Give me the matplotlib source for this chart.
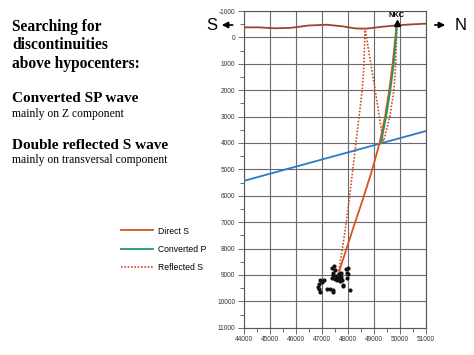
import matplotlib
matplotlib.use("Agg")
import matplotlib.pyplot as plt
from matplotlib.ticker import MultipleLocator

plt.rcParams['axes.unicode_minus'] = False

# ---- data (distance along profile in m, depth in m; negative = above sea level)
topo_x = [44000, 44600, 45200, 45800, 46500, 47200, 47800, 48300, 48700, 49300, 49800, 50400, 51000]
topo_z = [-380, -380, -345, -360, -450, -480, -420, -340, -330, -400, -450, -490, -520]

interface_x = [44000, 51000]
interface_z = [5440, 3550]

direct_x = [47600, 47730, 47960, 48190, 48580, 48950, 49230, 49440, 49600, 49730, 49835, 49885]
direct_z = [9150, 8700, 8000, 7300, 6150, 5000, 4000, 3000, 2000, 1000, 0, -500]

converted_x = [49290, 49480, 49640, 49770, 49860, 49890]
converted_z = [3950, 3000, 2000, 1000, 0, -500]

refl_x = [47620, 47800, 47950, 48080, 48200, 48320, 48440, 48560, 48630, 48660, 48668,
          48890, 49060, 49220, 49370,
          49620, 49780, 49850, 49880, 49890]
refl_z = [9100, 8000, 7000, 6000, 5000, 4000, 3000, 2000, 1000, 0, -345,
          1000, 2000, 3000, 3990,
          3000, 2000, 1000, 0, -500]

hypo_x = [46940, 46910, 46875, 46910, 47000, 47090, 47190, 47320, 47450, 47400, 47480,
          47520, 47430, 47400, 47500, 47600, 47680, 47760, 47730, 47840, 47940, 47965,
          47990, 48080, 46940, 47450, 48000, 48000, 47810, 47550, 47650, 47700, 47800, 47450]
hypo_z = [9190, 9350, 9440, 9540, 9250, 9200, 9520, 9530, 9580, 8750, 8650,
          8810, 8940, 9100, 9150, 9180, 9120, 9060, 8940, 9380, 8770, 8940,
          9100, 9570, 9630, 9640, 8750, 8970, 9420, 9050, 8980, 9220, 9200, 9000]

station_x = [49890]
station_z = [-540]
station_name = "NKC"

x_ticks = [44000, 45000, 46000, 47000, 48000, 49000, 50000, 51000]
y_ticks = [-1000, 0, 1000, 2000, 3000, 4000, 5000, 6000, 7000, 8000, 9000, 10000, 11000]
series_labels = ["Direct S", "Converted P", "Reflected S"]

# ---- figure
W, H = 474, 355
fig = plt.figure(figsize=(W / 100, H / 100), dpi=100)
ax = fig.add_axes([243.5 / W, 1 - 327.7 / H, (425.7 - 243.5) / W, (327.7 - 11) / H])

ax.set_xlim(44000, 51000)
ax.set_ylim(11000, -1000)
ax.set_xticks(x_ticks)
ax.set_xticklabels([str(v) for v in x_ticks])
ax.set_yticks(y_ticks)
ax.set_yticklabels([str(v) for v in y_ticks])
ax.xaxis.set_minor_locator(MultipleLocator(500))
ax.yaxis.set_minor_locator(MultipleLocator(500))
ax.grid(True, which='major', color='#6a6a6a', lw=0.8)
ax.set_axisbelow(True)
for s in ax.spines.values():
    s.set_color('#555555')
    s.set_linewidth(0.8)
ax.tick_params(which='major', length=4, width=0.6, color='#555555', labelsize=4.7,
               labelcolor='#333333', pad=2)
ax.tick_params(which='minor', length=3, width=0.6, color='#555555')
for lab in ax.get_xticklabels() + ax.get_yticklabels():
    lab.set_fontfamily('Liberation Sans')

ax.plot(topo_x, topo_z, color='#9a4530', lw=1.3, zorder=3)
ax.plot(interface_x, interface_z, color='#2a7bc5', lw=1.3, zorder=3)
l1, = ax.plot(direct_x, direct_z, color='#d8531f', lw=1.3, zorder=4, label=series_labels[0])
l2, = ax.plot(converted_x, converted_z, color='#1f9a5c', lw=1.3, zorder=5, label=series_labels[1])
l3, = ax.plot(refl_x, refl_z, color='#cf4d2a', lw=1.2, ls=(0, (1, 1)), zorder=4, label=series_labels[2])
ax.scatter(hypo_x, hypo_z, s=9, color='#111111', zorder=6, linewidths=0)
ax.plot(station_x, station_z, marker='^', color='black', ms=5, ls='none', zorder=7, clip_on=False)
ax.text(station_x[0], station_z[0] - 290, station_name, ha='center', va='center',
        fontsize=5.4, fontweight='bold', family='Liberation Sans', zorder=8)

leg = fig.legend(handles=[l1, l2, l3], loc='upper left',
                 bbox_to_anchor=(120.7 / W, 1 - 226.5 / H), frameon=False,
                 prop={'family': 'Liberation Sans', 'size': 6.2},
                 handlelength=3.8, handletextpad=0.55, labelspacing=1.1,
                 borderpad=0, borderaxespad=0)

# ---- left text block
serif = 'Liberation Serif'
x0 = 12 / W
def ft(ybase, s, size, weight):
    fig.text(x0, 1 - ybase / H, s, ha='left', va='baseline', fontsize=size,
             fontweight=weight, family=serif)
ft(30.7, "Searching for", 11.2, 'bold')
ft(49.3, "discontinuities", 11.2, 'bold')
ft(67.7, "above hypocenters:", 11.2, 'bold')
ft(101.7, "Converted SP wave", 11.0, 'bold')
ft(116.7, "mainly on Z component", 8.4, 'normal')
ft(149.0, "Double reflected S wave", 11.0, 'bold')
ft(163.3, "mainly on transversal component", 8.4, 'normal')

# ---- direction labels
fig.text(212 / W, 1 - 25 / H, "S", ha='center', va='center', fontsize=12, family='Liberation Sans')
fig.text(461 / W, 1 - 25 / H, "N", ha='center', va='center', fontsize=12, family='Liberation Sans')
fig.add_artist(matplotlib.patches.FancyArrowPatch((235.5 / W, 1 - 25 / H), (219 / W, 1 - 25 / H),
               transform=fig.transFigure, arrowstyle='-|>', mutation_scale=9, color='black', lw=1.2))
fig.add_artist(matplotlib.patches.FancyArrowPatch((432 / W, 1 - 25 / H), (448 / W, 1 - 25 / H),
               transform=fig.transFigure, arrowstyle='-|>', mutation_scale=9, color='black', lw=1.2))

fig.savefig("out.png", dpi=100)
